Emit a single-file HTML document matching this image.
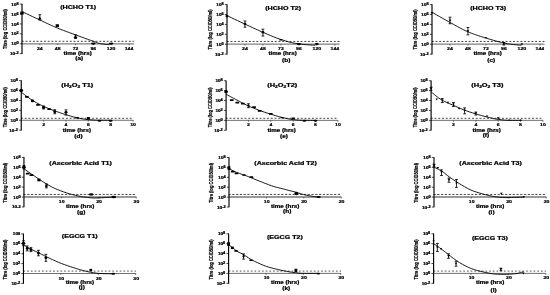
<!DOCTYPE html>
<html><head><meta charset="utf-8"><title>Inactivation kinetics</title>
<style>
html,body{margin:0;padding:0;background:#fff;}
svg{display:block;font-family:"Liberation Sans",Arial,sans-serif;font-weight:bold;fill:#000;}
text{stroke:#000;stroke-width:0.22px;stroke-linejoin:round;}
</style></head><body>
<svg width="550" height="295" viewBox="0 0 550 295">
<defs><filter id="soft" x="0" y="0" width="550" height="295" filterUnits="userSpaceOnUse"><feGaussianBlur stdDeviation="0.42"/></filter></defs>
<rect width="550" height="295" fill="#fff"/>
<g filter="url(#soft)">
<g stroke="#000" fill="#000"><path d="M22 43.75H133.9" stroke-width="1.25" stroke="#808080"/><path d="M39.83 43.75v1.4M57.66 43.75v1.4M75.5 43.75v1.4M93.33 43.75v1.4M111.16 43.75v1.4M128.99 43.75v1.4" stroke-width="0.7" stroke="#333"/><path d="M21.86 41.3H133.9" stroke-width="0.8" stroke="#111" stroke-dasharray="1.9 1.79"/><path d="M22 3.85V54" stroke-width="1.15"/><path d="M19.8 4.15H22M19.8 14.05H22M19.8 23.95H22M19.8 33.85H22M19.8 43.75H22M19.8 53.65H22" stroke-width="0.7"/><path d="M22 11.57L23.49 12.29L24.97 12.99L26.46 13.7L27.94 14.41L29.43 15.11L30.92 15.81L32.4 16.51L33.89 17.21L35.37 17.91L36.86 18.6L38.35 19.3L39.83 19.99L41.32 20.68L42.8 21.38L44.29 22.09L45.78 22.79L47.26 23.49L48.75 24.19L50.23 24.88L51.72 25.57L53.21 26.24L54.69 26.89L56.18 27.53L57.66 28.16L59.15 28.76L60.64 29.35L62.12 29.93L63.61 30.49L65.09 31.05L66.58 31.6L68.07 32.14L69.55 32.68L71.04 33.22L72.52 33.76L74.01 34.3L75.5 34.84L76.98 35.39L78.47 35.93L79.95 36.48L81.44 37.02L82.93 37.57L84.41 38.11L85.9 38.65L87.38 39.18L88.87 39.71L90.36 40.24L91.84 40.76L93.33 41.27L94.81 41.82L96.3 42.4L97.79 42.96L99.27 43.43L100.76 43.75L102.24 43.98L103.73 44.19L105.22 44.37L106.7 44.51L108.19 44.61L109.67 44.64" stroke-width="0.92" fill="none" stroke-linejoin="round"/><rect x="20.27" y="11.56" width="3.45" height="3" stroke="none"/><path d="M39.83 14.74V19.99M38.43 14.74h2.8M38.43 19.99h2.8" stroke-width="0.85"/><path d="M37.96 19.57h3.75L39.83 16.45z" stroke="none"/><rect x="55.64" y="24.25" width="3.31" height="2.88" stroke="none"/><path d="M75.5 34.84V37.56M74.1 34.84h2.8M74.1 37.56h2.8" stroke-width="0.85"/><ellipse cx="75.5" cy="37.56" rx="1.65" ry="1.5" stroke="none"/><ellipse cx="93.33" cy="43.55" rx="2.27" ry="1.12" stroke="none"/><ellipse cx="111.16" cy="43.55" rx="2.27" ry="1.12" stroke="none"/></g>
<text transform="translate(18.7 5.7) scale(1.36 1)" font-size="3.4" text-anchor="end">10<tspan font-size="2.9" dy="-0.95">8</tspan></text>
<text transform="translate(18.7 15.6) scale(1.36 1)" font-size="3.4" text-anchor="end">10<tspan font-size="2.9" dy="-0.95">6</tspan></text>
<text transform="translate(18.7 25.5) scale(1.36 1)" font-size="3.4" text-anchor="end">10<tspan font-size="2.9" dy="-0.95">4</tspan></text>
<text transform="translate(18.7 35.4) scale(1.36 1)" font-size="3.4" text-anchor="end">10<tspan font-size="2.9" dy="-0.95">2</tspan></text>
<text transform="translate(18.7 45.3) scale(1.36 1)" font-size="3.4" text-anchor="end">10<tspan font-size="2.9" dy="-0.95">0</tspan></text>
<text transform="translate(18.7 55.2) scale(1.36 1)" font-size="3.4" text-anchor="end">10<tspan font-size="2.9" dy="-0.95">-2</tspan></text>
<text transform="translate(39.83 49.6) scale(1.2 1)" font-size="4.3" text-anchor="middle" stroke-width="0.12">24</text>
<text transform="translate(57.66 49.6) scale(1.2 1)" font-size="4.3" text-anchor="middle" stroke-width="0.12">48</text>
<text transform="translate(75.5 49.6) scale(1.2 1)" font-size="4.3" text-anchor="middle" stroke-width="0.12">72</text>
<text transform="translate(93.33 49.6) scale(1.2 1)" font-size="4.3" text-anchor="middle" stroke-width="0.12">96</text>
<text transform="translate(111.16 49.6) scale(1.2 1)" font-size="4.3" text-anchor="middle" stroke-width="0.12">120</text>
<text transform="translate(128.99 49.6) scale(1.2 1)" font-size="4.3" text-anchor="middle" stroke-width="0.12">144</text>
<text transform="translate(77.6 54.85) scale(1.39 1)" font-size="4.5" text-anchor="middle" stroke-width="0.24">time (hrs)</text>
<text transform="translate(79.2 60.35) scale(1.45 1)" font-size="4.5" text-anchor="middle" stroke-width="0.3">(a)</text>
<text transform="translate(78.1 8.75) scale(1.55 1)" font-size="4.6" text-anchor="middle" stroke-width="0.1">(HCHO T1)</text>
<text transform="translate(6.9 29) rotate(-90) scale(0.88 1)" font-size="4.6" text-anchor="middle" stroke-width="0.3">Titre (log CCID50/ml)</text>
<g stroke="#000" fill="#000"><path d="M227 44.2H339.5" stroke-width="1.25" stroke="#808080"/><path d="M244.98 44.2v1.4M262.95 44.2v1.4M280.93 44.2v1.4M298.9 44.2v1.4M316.88 44.2v1.4M334.86 44.2v1.4" stroke-width="0.7" stroke="#333"/><path d="M226.86 41.45H339.5" stroke-width="0.8" stroke="#111" stroke-dasharray="1.9 1.79"/><path d="M227 4.3V54.45" stroke-width="1.15"/><path d="M224.8 4.6H227M224.8 14.5H227M224.8 24.4H227M224.8 34.3H227M224.8 44.2H227M224.8 54.1H227" stroke-width="0.7"/><path d="M227 15.59L228.5 16.31L230 17.03L231.49 17.75L232.99 18.46L234.49 19.17L235.99 19.88L237.49 20.59L238.98 21.3L240.48 22L241.98 22.7L243.48 23.41L244.98 24.1L246.47 24.8L247.97 25.5L249.47 26.2L250.97 26.9L252.47 27.6L253.96 28.3L255.46 28.99L256.96 29.67L258.46 30.35L259.96 31.02L261.45 31.68L262.95 32.32L264.45 32.96L265.95 33.6L267.45 34.25L268.94 34.89L270.44 35.52L271.94 36.14L273.44 36.75L274.94 37.34L276.43 37.92L277.93 38.47L279.43 39L280.93 39.5L282.43 39.98L283.92 40.46L285.42 40.92L286.92 41.37L288.42 41.8L289.92 42.2L291.41 42.57L292.91 42.91L294.41 43.21L295.91 43.48L297.41 43.72L298.9 43.94L300.4 44.12L301.9 44.27L303.4 44.42L304.9 44.56L306.39 44.69L307.89 44.81L309.39 44.92L310.89 45.02L312.39 45.09L313.88 45.15L315.38 45.19" stroke-width="0.92" fill="none" stroke-linejoin="round"/><ellipse cx="227" cy="16.08" rx="1.51" ry="1.38" stroke="none"/><path d="M244.98 21.03V27.17M243.58 21.03h2.8M243.58 27.17h2.8" stroke-width="0.85"/><ellipse cx="244.98" cy="24.1" rx="1.38" ry="1.25" stroke="none"/><path d="M262.95 29.2V36.03M261.55 29.2h2.8M261.55 36.03h2.8" stroke-width="0.85"/><ellipse cx="262.95" cy="32.32" rx="1.38" ry="1.25" stroke="none"/><rect x="279.43" y="39.09" width="3" height="1.4" rx="0.5" stroke="none"/><ellipse cx="298.9" cy="44" rx="1.99" ry="0.99" stroke="none"/><ellipse cx="316.88" cy="44" rx="1.99" ry="0.99" stroke="none"/></g>
<text transform="translate(223.7 6.15) scale(1.36 1)" font-size="3.4" text-anchor="end">10<tspan font-size="2.9" dy="-0.95">8</tspan></text>
<text transform="translate(223.7 16.05) scale(1.36 1)" font-size="3.4" text-anchor="end">10<tspan font-size="2.9" dy="-0.95">6</tspan></text>
<text transform="translate(223.7 25.95) scale(1.36 1)" font-size="3.4" text-anchor="end">10<tspan font-size="2.9" dy="-0.95">4</tspan></text>
<text transform="translate(223.7 35.85) scale(1.36 1)" font-size="3.4" text-anchor="end">10<tspan font-size="2.9" dy="-0.95">2</tspan></text>
<text transform="translate(223.7 45.75) scale(1.36 1)" font-size="3.4" text-anchor="end">10<tspan font-size="2.9" dy="-0.95">0</tspan></text>
<text transform="translate(223.7 55.65) scale(1.36 1)" font-size="3.4" text-anchor="end">10<tspan font-size="2.9" dy="-0.95">-2</tspan></text>
<text transform="translate(244.98 50.05) scale(1.2 1)" font-size="4.3" text-anchor="middle" stroke-width="0.12">24</text>
<text transform="translate(262.95 50.05) scale(1.2 1)" font-size="4.3" text-anchor="middle" stroke-width="0.12">48</text>
<text transform="translate(280.93 50.05) scale(1.2 1)" font-size="4.3" text-anchor="middle" stroke-width="0.12">72</text>
<text transform="translate(298.9 50.05) scale(1.2 1)" font-size="4.3" text-anchor="middle" stroke-width="0.12">96</text>
<text transform="translate(316.88 50.05) scale(1.2 1)" font-size="4.3" text-anchor="middle" stroke-width="0.12">120</text>
<text transform="translate(334.86 50.05) scale(1.2 1)" font-size="4.3" text-anchor="middle" stroke-width="0.12">144</text>
<text transform="translate(282.6 55.3) scale(1.39 1)" font-size="4.5" text-anchor="middle" stroke-width="0.24">time (hrs)</text>
<text transform="translate(286.2 62.1) scale(1.45 1)" font-size="4.5" text-anchor="middle" stroke-width="0.3">(b)</text>
<text transform="translate(283.1 9.5) scale(1.55 1)" font-size="4.6" text-anchor="middle" stroke-width="0.1">(HCHO T2)</text>
<text transform="translate(211.9 29.45) rotate(-90) scale(0.88 1)" font-size="4.6" text-anchor="middle" stroke-width="0.3">Titre (log CCID50/ml)</text>
<g stroke="#000" fill="#000"><path d="M432 44.2H544.5" stroke-width="1.25" stroke="#808080"/><path d="M449.98 44.2v1.4M467.95 44.2v1.4M485.93 44.2v1.4M503.9 44.2v1.4M521.88 44.2v1.4M539.86 44.2v1.4" stroke-width="0.7" stroke="#333"/><path d="M431.86 41.45H544.5" stroke-width="0.8" stroke="#111" stroke-dasharray="1.9 1.79"/><path d="M432 4.3V54.45" stroke-width="1.15"/><path d="M429.8 4.6H432M429.8 14.5H432M429.8 24.4H432M429.8 34.3H432M429.8 44.2H432M429.8 54.1H432" stroke-width="0.7"/><path d="M432 12.22L433.51 13.11L435.02 13.99L436.53 14.87L438.04 15.74L439.55 16.61L441.06 17.47L442.57 18.32L444.09 19.17L445.6 20.01L447.11 20.85L448.62 21.68L450.13 22.5L451.64 23.33L453.15 24.17L454.66 25.02L456.17 25.87L457.68 26.7L459.19 27.53L460.7 28.34L462.21 29.13L463.72 29.89L465.24 30.62L466.75 31.31L468.26 31.95L469.77 32.56L471.28 33.16L472.79 33.72L474.3 34.27L475.81 34.81L477.32 35.32L478.83 35.83L480.34 36.32L481.85 36.8L483.36 37.27L484.87 37.74L486.39 38.2L487.9 38.66L489.41 39.12L490.92 39.57L492.43 40.01L493.94 40.44L495.45 40.87L496.96 41.28L498.47 41.68L499.98 42.06L501.49 42.42L503 42.77L504.51 43.09L506.02 43.41L507.53 43.7L509.05 43.97L510.56 44.19L512.07 44.38L513.58 44.56L515.09 44.73L516.6 44.88L518.11 45.01L519.62 45.11L521.13 45.19" stroke-width="0.92" fill="none" stroke-linejoin="round"/><path d="M430.65 11.89h2.7L432 14.14z" stroke="none"/><path d="M449.98 17.27V23.76M448.58 17.27h2.8M448.58 23.76h2.8" stroke-width="0.85"/><path d="M448.63 19.56h2.7L449.98 21.81z" stroke="none"/><path d="M467.95 27.52V34.84M466.55 27.52h2.8M466.55 34.84h2.8" stroke-width="0.85"/><path d="M466.6 30.21h2.7L467.95 32.45z" stroke="none"/><rect x="484.62" y="37.15" width="2.62" height="1.22" rx="0.5" stroke="none"/><path d="M503.9 42.47V44.94M502.5 42.47h2.8M502.5 44.94h2.8" stroke-width="0.85"/><path d="M502.7 42.71h2.4L503.9 44.71z" stroke="none"/><path d="M520.68 43.2h2.4L521.88 45.2z" stroke="none"/></g>
<text transform="translate(428.7 6.15) scale(1.36 1)" font-size="3.4" text-anchor="end">10<tspan font-size="2.9" dy="-0.95">8</tspan></text>
<text transform="translate(428.7 16.05) scale(1.36 1)" font-size="3.4" text-anchor="end">10<tspan font-size="2.9" dy="-0.95">6</tspan></text>
<text transform="translate(428.7 25.95) scale(1.36 1)" font-size="3.4" text-anchor="end">10<tspan font-size="2.9" dy="-0.95">4</tspan></text>
<text transform="translate(428.7 35.85) scale(1.36 1)" font-size="3.4" text-anchor="end">10<tspan font-size="2.9" dy="-0.95">2</tspan></text>
<text transform="translate(428.7 45.75) scale(1.36 1)" font-size="3.4" text-anchor="end">10<tspan font-size="2.9" dy="-0.95">0</tspan></text>
<text transform="translate(428.7 55.65) scale(1.36 1)" font-size="3.4" text-anchor="end">10<tspan font-size="2.9" dy="-0.95">-2</tspan></text>
<text transform="translate(449.98 50.05) scale(1.2 1)" font-size="4.3" text-anchor="middle" stroke-width="0.12">24</text>
<text transform="translate(467.95 50.05) scale(1.2 1)" font-size="4.3" text-anchor="middle" stroke-width="0.12">48</text>
<text transform="translate(485.93 50.05) scale(1.2 1)" font-size="4.3" text-anchor="middle" stroke-width="0.12">72</text>
<text transform="translate(503.9 50.05) scale(1.2 1)" font-size="4.3" text-anchor="middle" stroke-width="0.12">96</text>
<text transform="translate(521.88 50.05) scale(1.2 1)" font-size="4.3" text-anchor="middle" stroke-width="0.12">120</text>
<text transform="translate(539.86 50.05) scale(1.2 1)" font-size="4.3" text-anchor="middle" stroke-width="0.12">144</text>
<text transform="translate(487.6 55.3) scale(1.39 1)" font-size="4.5" text-anchor="middle" stroke-width="0.24">time (hrs)</text>
<text transform="translate(491.2 62.1) scale(1.45 1)" font-size="4.5" text-anchor="middle" stroke-width="0.3">(c)</text>
<text transform="translate(488.1 9.5) scale(1.55 1)" font-size="4.6" text-anchor="middle" stroke-width="0.1">(HCHO T3)</text>
<text transform="translate(416.9 29.45) rotate(-90) scale(0.88 1)" font-size="4.6" text-anchor="middle" stroke-width="0.3">Titre (log CCID50/ml)</text>
<g stroke="#000" fill="#000"><path d="M21.25 120.25H133.35" stroke-width="0.8" stroke="#4a4a4a"/><path d="M43.61 120.25v1.4M65.97 120.25v1.4M88.33 120.25v1.4M110.69 120.25v1.4M133.05 120.25v1.4" stroke-width="0.7" stroke="#333"/><path d="M20.95 118.3H133.35" stroke-width="1.0" stroke="#444" stroke-dasharray="1.9 1.85"/><path d="M21.25 80.35V130.5" stroke-width="1.15"/><path d="M19.05 80.65H21.25M19.05 90.55H21.25M19.05 100.45H21.25M19.05 110.35H21.25M19.05 120.25H21.25M19.05 130.15H21.25" stroke-width="0.7"/><path d="M21.25 92.08L22.78 93.3L24.32 94.49L25.85 95.66L27.39 96.8L28.92 97.93L30.46 99.04L31.99 100.08L33.53 101.03L35.06 101.94L36.6 102.81L38.13 103.66L39.67 104.46L41.2 105.24L42.74 105.98L44.27 106.69L45.81 107.37L47.34 108.02L48.88 108.64L50.41 109.25L51.95 109.83L53.48 110.41L55.02 110.98L56.55 111.54L58.09 112.09L59.62 112.63L61.16 113.16L62.69 113.67L64.23 114.16L65.76 114.64L67.3 115.11L68.83 115.57L70.37 116.03L71.9 116.47L73.44 116.89L74.97 117.28L76.51 117.64L78.04 117.96L79.58 118.28L81.11 118.59L82.65 118.88L84.18 119.14L85.72 119.37L87.25 119.56L88.78 119.69L90.32 119.81L91.85 119.93L93.39 120.03L94.92 120.12L96.46 120.19L97.99 120.23L99.53 120.25L101.06 120.25L102.6 120.25L104.13 120.25L105.67 120.25L107.2 120.25L108.74 120.25L110.27 120.25L111.81 120.25" stroke-width="0.92" fill="none" stroke-linejoin="round"/><ellipse cx="21.25" cy="90.55" rx="1.93" ry="1.75" stroke="none"/><rect x="24.96" y="96.11" width="3.75" height="1.75" rx="0.5" stroke="none"/><ellipse cx="32.43" cy="100.65" rx="1.65" ry="1.5" stroke="none"/><rect x="36.14" y="104.03" width="3.75" height="1.75" rx="0.5" stroke="none"/><path d="M43.61 105.99V108.96M42.21 105.99h2.8M42.21 108.96h2.8" stroke-width="0.85"/><ellipse cx="43.61" cy="107.48" rx="1.65" ry="1.5" stroke="none"/><rect x="47.33" y="108.29" width="3.75" height="1.75" rx="0.5" stroke="none"/><path d="M54.79 109.76V113.72M53.39 109.76h2.8M53.39 113.72h2.8" stroke-width="0.85"/><ellipse cx="54.79" cy="111.74" rx="1.51" ry="1.38" stroke="none"/><path d="M65.97 109.86V115.05M64.57 109.86h2.8M64.57 115.05h2.8" stroke-width="0.85"/><ellipse cx="65.97" cy="112.33" rx="1.51" ry="1.38" stroke="none"/><rect x="75.46" y="116.99" width="3.38" height="1.57" rx="0.5" stroke="none"/><rect x="86.89" y="117.02" width="2.88" height="2.5" stroke="none"/><ellipse cx="99.51" cy="120.65" rx="1.99" ry="0.99" stroke="none"/><ellipse cx="110.69" cy="120.65" rx="1.99" ry="0.99" stroke="none"/></g>
<text transform="translate(17.95 82.2) scale(1.36 1)" font-size="3.4" text-anchor="end">10<tspan font-size="2.9" dy="-0.95">8</tspan></text>
<text transform="translate(17.95 92.1) scale(1.36 1)" font-size="3.4" text-anchor="end">10<tspan font-size="2.9" dy="-0.95">6</tspan></text>
<text transform="translate(17.95 102) scale(1.36 1)" font-size="3.4" text-anchor="end">10<tspan font-size="2.9" dy="-0.95">4</tspan></text>
<text transform="translate(17.95 111.9) scale(1.36 1)" font-size="3.4" text-anchor="end">10<tspan font-size="2.9" dy="-0.95">2</tspan></text>
<text transform="translate(17.95 121.8) scale(1.36 1)" font-size="3.4" text-anchor="end">10<tspan font-size="2.9" dy="-0.95">0</tspan></text>
<text transform="translate(17.95 131.7) scale(1.36 1)" font-size="3.4" text-anchor="end">10<tspan font-size="2.9" dy="-0.95">-2</tspan></text>
<text transform="translate(43.61 126.1) scale(1.2 1)" font-size="4.3" text-anchor="middle" stroke-width="0.12">2</text>
<text transform="translate(65.97 126.1) scale(1.2 1)" font-size="4.3" text-anchor="middle" stroke-width="0.12">4</text>
<text transform="translate(88.33 126.1) scale(1.2 1)" font-size="4.3" text-anchor="middle" stroke-width="0.12">6</text>
<text transform="translate(110.69 126.1) scale(1.2 1)" font-size="4.3" text-anchor="middle" stroke-width="0.12">8</text>
<text transform="translate(133.05 126.1) scale(1.2 1)" font-size="4.3" text-anchor="middle" stroke-width="0.12">10</text>
<text transform="translate(76.85 131.95) scale(1.39 1)" font-size="4.5" text-anchor="middle" stroke-width="0.24">time (hrs)</text>
<text transform="translate(78.45 138.05) scale(1.45 1)" font-size="4.5" text-anchor="middle" stroke-width="0.3">(d)</text>
<text transform="translate(77.25 87.05) scale(1.61 1)" font-size="4.6" text-anchor="middle" stroke-width="0.1">(H<tspan font-size="3" dy="1">2</tspan><tspan dy="-1">O</tspan><tspan font-size="3" dy="1">2</tspan><tspan dy="-1"> T1)</tspan></text>
<text transform="translate(6.65 107.2) rotate(-90) scale(0.88 1)" font-size="4.6" text-anchor="middle" stroke-width="0.3">Titre (log CCID50/ml)</text>
<g stroke="#000" fill="#000"><path d="M226.1 120.35H338.2" stroke-width="0.8" stroke="#4a4a4a"/><path d="M248.46 120.35v1.4M270.82 120.35v1.4M293.18 120.35v1.4M315.54 120.35v1.4M337.9 120.35v1.4" stroke-width="0.7" stroke="#333"/><path d="M225.8 118.3H338.2" stroke-width="1.0" stroke="#444" stroke-dasharray="1.9 1.85"/><path d="M226.1 80.45V130.6" stroke-width="1.15"/><path d="M223.9 80.75H226.1M223.9 90.65H226.1M223.9 100.55H226.1M223.9 110.45H226.1M223.9 120.35H226.1M223.9 130.25H226.1" stroke-width="0.7"/><path d="M226.1 94.31L227.63 95.14L229.17 95.96L230.7 96.78L232.24 97.6L233.77 98.41L235.31 99.22L236.84 100.03L238.38 100.83L239.91 101.65L241.45 102.47L242.98 103.29L244.52 104.09L246.05 104.86L247.59 105.6L249.12 106.29L250.66 106.95L252.19 107.59L253.73 108.21L255.26 108.81L256.8 109.4L258.33 109.97L259.87 110.53L261.4 111.09L262.94 111.63L264.47 112.15L266.01 112.67L267.54 113.18L269.08 113.67L270.61 114.15L272.15 114.62L273.68 115.09L275.22 115.55L276.75 116L278.29 116.43L279.82 116.84L281.36 117.23L282.89 117.59L284.43 117.96L285.96 118.32L287.5 118.66L289.03 118.98L290.57 119.26L292.1 119.48L293.63 119.65L295.17 119.8L296.7 119.95L298.24 120.08L299.77 120.19L301.31 120.27L302.84 120.33L304.38 120.35L305.91 120.35L307.45 120.35L308.98 120.35L310.52 120.35L312.05 120.35L313.59 120.35L315.12 120.35L316.66 120.35" stroke-width="0.92" fill="none" stroke-linejoin="round"/><ellipse cx="226.1" cy="91.64" rx="1.86" ry="1.69" stroke="none"/><rect x="229.81" y="99.18" width="3.75" height="1.75" rx="0.5" stroke="none"/><rect x="235.41" y="101.66" width="3.75" height="1.75" rx="0.5" stroke="none"/><rect x="241" y="102.79" width="3.75" height="1.75" rx="0.5" stroke="none"/><path d="M248.46 103.72V107.68M247.06 103.72h2.8M247.06 107.68h2.8" stroke-width="0.85"/><ellipse cx="248.46" cy="105.7" rx="1.24" ry="1.12" stroke="none"/><rect x="252.17" y="106.21" width="3.75" height="1.75" rx="0.5" stroke="none"/><rect x="257.76" y="109.97" width="3.75" height="1.75" rx="0.5" stroke="none"/><rect x="268.94" y="113.04" width="3.75" height="1.75" rx="0.5" stroke="none"/><rect x="280.5" y="116.93" width="3" height="1.4" rx="0.5" stroke="none"/><rect x="291.49" y="117.58" width="3.38" height="1.57" rx="0.5" stroke="none"/><ellipse cx="304.36" cy="120.75" rx="1.9" ry="0.94" stroke="none"/><ellipse cx="315.54" cy="120.75" rx="1.9" ry="0.94" stroke="none"/></g>
<text transform="translate(222.8 82.3) scale(1.36 1)" font-size="3.4" text-anchor="end">10<tspan font-size="2.9" dy="-0.95">8</tspan></text>
<text transform="translate(222.8 92.2) scale(1.36 1)" font-size="3.4" text-anchor="end">10<tspan font-size="2.9" dy="-0.95">6</tspan></text>
<text transform="translate(222.8 102.1) scale(1.36 1)" font-size="3.4" text-anchor="end">10<tspan font-size="2.9" dy="-0.95">4</tspan></text>
<text transform="translate(222.8 112) scale(1.36 1)" font-size="3.4" text-anchor="end">10<tspan font-size="2.9" dy="-0.95">2</tspan></text>
<text transform="translate(222.8 121.9) scale(1.36 1)" font-size="3.4" text-anchor="end">10<tspan font-size="2.9" dy="-0.95">0</tspan></text>
<text transform="translate(222.8 131.8) scale(1.36 1)" font-size="3.4" text-anchor="end">10<tspan font-size="2.9" dy="-0.95">-2</tspan></text>
<text transform="translate(248.46 126.2) scale(1.2 1)" font-size="4.3" text-anchor="middle" stroke-width="0.12">2</text>
<text transform="translate(270.82 126.2) scale(1.2 1)" font-size="4.3" text-anchor="middle" stroke-width="0.12">4</text>
<text transform="translate(293.18 126.2) scale(1.2 1)" font-size="4.3" text-anchor="middle" stroke-width="0.12">6</text>
<text transform="translate(315.54 126.2) scale(1.2 1)" font-size="4.3" text-anchor="middle" stroke-width="0.12">8</text>
<text transform="translate(337.9 126.2) scale(1.2 1)" font-size="4.3" text-anchor="middle" stroke-width="0.12">10</text>
<text transform="translate(281.7 132.05) scale(1.39 1)" font-size="4.5" text-anchor="middle" stroke-width="0.24">time (hrs)</text>
<text transform="translate(283.95 138.15) scale(1.45 1)" font-size="4.5" text-anchor="middle" stroke-width="0.3">(e)</text>
<text transform="translate(282.3 86.55) scale(1.61 1)" font-size="4.6" text-anchor="middle" stroke-width="0.1">(H<tspan font-size="3" dy="1">2</tspan><tspan dy="-1">O</tspan><tspan font-size="3" dy="1">2</tspan><tspan dy="-1">T2)</tspan></text>
<text transform="translate(211.5 107.3) rotate(-90) scale(0.88 1)" font-size="4.6" text-anchor="middle" stroke-width="0.3">Titre (log CCID50/ml)</text>
<g stroke="#000" fill="#000"><path d="M431.1 120.35H543.2" stroke-width="0.8" stroke="#4a4a4a"/><path d="M453.46 120.35v1.4M475.82 120.35v1.4M498.18 120.35v1.4M520.54 120.35v1.4M542.9 120.35v1.4" stroke-width="0.7" stroke="#333"/><path d="M430.8 118.3H543.2" stroke-width="1.0" stroke="#444" stroke-dasharray="1.9 1.85"/><path d="M431.1 80.45V130.6" stroke-width="1.15"/><path d="M428.9 80.75H431.1M428.9 90.65H431.1M428.9 100.55H431.1M428.9 110.45H431.1M428.9 120.35H431.1M428.9 130.25H431.1" stroke-width="0.7"/><path d="M431.1 91.69L432.63 93.08L434.17 94.41L435.7 95.68L437.24 96.88L438.77 98.01L440.31 99.05L441.84 100L443.38 100.86L444.91 101.64L446.45 102.36L447.98 103.03L449.52 103.68L451.05 104.32L452.59 104.97L454.12 105.65L455.66 106.33L457.19 107.02L458.73 107.7L460.26 108.37L461.8 109.02L463.33 109.65L464.87 110.24L466.4 110.81L467.94 111.35L469.47 111.88L471.01 112.4L472.54 112.9L474.08 113.38L475.61 113.85L477.15 114.31L478.68 114.76L480.22 115.2L481.75 115.63L483.29 116.05L484.82 116.44L486.36 116.83L487.89 117.2L489.43 117.58L490.96 117.95L492.5 118.31L494.03 118.65L495.57 118.95L497.1 119.21L498.63 119.42L500.17 119.61L501.7 119.8L503.24 119.97L504.77 120.13L506.31 120.24L507.84 120.32L509.38 120.35L510.91 120.35L512.45 120.35L513.98 120.35L515.52 120.35L517.05 120.35L518.59 120.35L520.12 120.35L521.66 120.35" stroke-width="0.92" fill="none" stroke-linejoin="round"/><path d="M431.1 87.19V90.15M429.7 87.19h2.8M429.7 90.15h2.8" stroke-width="0.85"/><path d="M429.75 87.54h2.7L431.1 89.79z" stroke="none"/><path d="M435.49 98.41h2.4L436.69 100.41z" stroke="none"/><path d="M442.28 98.57V102.53M440.88 98.57h2.8M440.88 102.53h2.8" stroke-width="0.85"/><path d="M441.08 99.55h2.4L442.28 101.55z" stroke="none"/><path d="M446.67 101.83h2.4L447.87 103.83z" stroke="none"/><path d="M453.46 102.53V106.49M452.06 102.53h2.8M452.06 106.49h2.8" stroke-width="0.85"/><path d="M452.26 103.51h2.4L453.46 105.51z" stroke="none"/><path d="M457.85 107.77h2.4L459.05 109.77z" stroke="none"/><path d="M464.64 107.88V113.82M463.24 107.88h2.8M463.24 113.82h2.8" stroke-width="0.85"/><path d="M463.44 109.85h2.4L464.64 111.85z" stroke="none"/><path d="M475.82 112.08V115.05M474.42 112.08h2.8M474.42 115.05h2.8" stroke-width="0.85"/><path d="M474.62 112.57h2.4L475.82 114.57z" stroke="none"/><path d="M485.8 115.44h2.4L487 117.44z" stroke="none"/><path d="M496.83 117.24h2.7L498.18 119.49z" stroke="none"/><path d="M508.46 119.6h1.8L509.36 121.1z" stroke="none"/><path d="M519.64 119.6h1.8L520.54 121.1z" stroke="none"/></g>
<text transform="translate(427.8 82.3) scale(1.36 1)" font-size="3.4" text-anchor="end">10<tspan font-size="2.9" dy="-0.95">8</tspan></text>
<text transform="translate(427.8 92.2) scale(1.36 1)" font-size="3.4" text-anchor="end">10<tspan font-size="2.9" dy="-0.95">6</tspan></text>
<text transform="translate(427.8 102.1) scale(1.36 1)" font-size="3.4" text-anchor="end">10<tspan font-size="2.9" dy="-0.95">4</tspan></text>
<text transform="translate(427.8 112) scale(1.36 1)" font-size="3.4" text-anchor="end">10<tspan font-size="2.9" dy="-0.95">2</tspan></text>
<text transform="translate(427.8 121.9) scale(1.36 1)" font-size="3.4" text-anchor="end">10<tspan font-size="2.9" dy="-0.95">0</tspan></text>
<text transform="translate(427.8 131.8) scale(1.36 1)" font-size="3.4" text-anchor="end">10<tspan font-size="2.9" dy="-0.95">-2</tspan></text>
<text transform="translate(453.46 126.2) scale(1.2 1)" font-size="4.3" text-anchor="middle" stroke-width="0.12">2</text>
<text transform="translate(475.82 126.2) scale(1.2 1)" font-size="4.3" text-anchor="middle" stroke-width="0.12">4</text>
<text transform="translate(498.18 126.2) scale(1.2 1)" font-size="4.3" text-anchor="middle" stroke-width="0.12">6</text>
<text transform="translate(520.54 126.2) scale(1.2 1)" font-size="4.3" text-anchor="middle" stroke-width="0.12">8</text>
<text transform="translate(542.9 126.2) scale(1.2 1)" font-size="4.3" text-anchor="middle" stroke-width="0.12">10</text>
<text transform="translate(486.7 132.05) scale(1.39 1)" font-size="4.5" text-anchor="middle" stroke-width="0.24">time (hrs)</text>
<text transform="translate(485.9 136.65) scale(1.45 1)" font-size="4.5" text-anchor="middle" stroke-width="0.3">(f)</text>
<text transform="translate(487.4 86.55) scale(1.61 1)" font-size="4.6" text-anchor="middle" stroke-width="0.1">(H<tspan font-size="3" dy="1">2</tspan><tspan dy="-1">O</tspan><tspan font-size="3" dy="1">2</tspan><tspan dy="-1"> T3)</tspan></text>
<text transform="translate(416.5 107.3) rotate(-90) scale(0.88 1)" font-size="4.6" text-anchor="middle" stroke-width="0.3">Titre (log CCID50/ml)</text>
<g stroke="#000" fill="#000"><path d="M23.95 197H136.5" stroke-width="1.5" stroke="#777"/><path d="M61.35 197v1.4M98.75 197v1.4M136.15 197v1.4" stroke-width="0.7" stroke="#333"/><path d="M23.45 194.45H136.5" stroke-width="0.8" stroke="#1a1a1a" stroke-dasharray="2.2 1.57"/><path d="M23.95 157.1V207.25" stroke-width="1.15"/><path d="M21.75 157.4H23.95M21.75 167.3H23.95M21.75 177.2H23.95M21.75 187.1H23.95M21.75 197H23.95M21.75 206.9H23.95" stroke-width="0.7"/><path d="M23.95 168.83L25.47 169.89L26.99 170.93L28.51 171.98L30.04 173.03L31.56 174.07L33.08 175.11L34.6 176.16L36.12 177.2L37.64 178.24L39.16 179.25L40.68 180.26L42.21 181.26L43.73 182.24L45.25 183.19L46.77 184.11L48.29 185L49.81 185.87L51.33 186.71L52.86 187.5L54.38 188.23L55.9 188.9L57.42 189.54L58.94 190.15L60.46 190.73L61.98 191.29L63.51 191.84L65.03 192.37L66.55 192.88L68.07 193.36L69.59 193.8L71.11 194.23L72.63 194.63L74.15 195.01L75.68 195.37L77.2 195.72L78.72 196.06L80.24 196.39L81.76 196.69L83.28 196.93L84.8 197.13L86.33 197.32L87.85 197.5L89.37 197.67L90.89 197.81L92.41 197.91L93.93 197.98L95.45 197.99L96.98 197.96L98.5 197.92L100.02 197.85L101.54 197.77L103.06 197.68L104.58 197.59L106.1 197.5L107.62 197.42L109.15 197.32L110.67 197.22L112.19 197.11L113.71 197" stroke-width="0.92" fill="none" stroke-linejoin="round"/><path d="M23.95 165.42V168.88M22.55 165.42h2.8M22.55 168.88h2.8" stroke-width="0.85"/><ellipse cx="23.95" cy="167.15" rx="1.79" ry="1.62" stroke="none"/><rect x="25.81" y="172.76" width="3.75" height="1.75" rx="0.5" stroke="none"/><rect x="29.55" y="174.3" width="3.75" height="1.75" rx="0.5" stroke="none"/><rect x="37.33" y="178.6" width="3.16" height="2.75" stroke="none"/><path d="M46.39 183.93V187.89M44.99 183.93h2.8M44.99 187.89h2.8" stroke-width="0.85"/><ellipse cx="46.39" cy="185.91" rx="1.38" ry="1.25" stroke="none"/><ellipse cx="91.27" cy="194.43" rx="2.36" ry="1.17" stroke="none"/><ellipse cx="113.71" cy="197" rx="2.36" ry="1.17" stroke="none"/></g>
<text transform="translate(20.65 158.95) scale(1.36 1)" font-size="3.4" text-anchor="end">10<tspan font-size="2.9" dy="-0.95">8</tspan></text>
<text transform="translate(20.65 168.85) scale(1.36 1)" font-size="3.4" text-anchor="end">10<tspan font-size="2.9" dy="-0.95">6</tspan></text>
<text transform="translate(20.65 178.75) scale(1.36 1)" font-size="3.4" text-anchor="end">10<tspan font-size="2.9" dy="-0.95">4</tspan></text>
<text transform="translate(20.65 188.65) scale(1.36 1)" font-size="3.4" text-anchor="end">10<tspan font-size="2.9" dy="-0.95">2</tspan></text>
<text transform="translate(20.65 198.55) scale(1.36 1)" font-size="3.4" text-anchor="end">10<tspan font-size="2.9" dy="-0.95">0</tspan></text>
<text transform="translate(20.65 208.45) scale(1.36 1)" font-size="3.4" text-anchor="end">10<tspan font-size="2.9" dy="-0.95">-2</tspan></text>
<text transform="translate(61.65 202.85) scale(1.2 1)" font-size="4.3" text-anchor="middle" stroke-width="0.12">10</text>
<text transform="translate(99.05 202.85) scale(1.2 1)" font-size="4.3" text-anchor="middle" stroke-width="0.12">20</text>
<text transform="translate(136.45 202.85) scale(1.2 1)" font-size="4.3" text-anchor="middle" stroke-width="0.12">30</text>
<text transform="translate(80.15 208.1) scale(1.39 1)" font-size="4.5" text-anchor="middle" stroke-width="0.24">time (hrs)</text>
<text transform="translate(81.15 213.9) scale(1.45 1)" font-size="4.5" text-anchor="middle" stroke-width="0.3">(g)</text>
<text transform="translate(80.55 164.7) scale(1.55 1)" font-size="4.6" text-anchor="middle" stroke-width="0.1">(Ascorbic Acid T1)</text>
<text transform="translate(7.45 182.75) rotate(-90) scale(0.88 1)" font-size="4.6" text-anchor="middle" stroke-width="0.3">Titre (log CCID50/ml)</text>
<g stroke="#000" fill="#000"><path d="M229 197.1H341.4" stroke-width="1.5" stroke="#777"/><path d="M266.4 197.1v1.4M303.8 197.1v1.4M341.2 197.1v1.4" stroke-width="0.7" stroke="#333"/><path d="M228.5 194.45H341.4" stroke-width="0.8" stroke="#1a1a1a" stroke-dasharray="2.2 1.57"/><path d="M229 157.2V207.35" stroke-width="1.15"/><path d="M226.8 157.5H229M226.8 167.4H229M226.8 177.3H229M226.8 187.2H229M226.8 197.1H229M226.8 207H229" stroke-width="0.7"/><path d="M229 168.64L230.52 169.48L232.04 170.29L233.56 171.05L235.09 171.75L236.61 172.4L238.13 172.98L239.65 173.51L241.17 174.02L242.69 174.53L244.21 175.07L245.73 175.63L247.26 176.21L248.78 176.8L250.3 177.39L251.82 178L253.34 178.61L254.86 179.24L256.38 179.88L257.91 180.5L259.43 181.12L260.95 181.72L262.47 182.32L263.99 182.91L265.51 183.5L267.03 184.07L268.56 184.66L270.08 185.25L271.6 185.81L273.12 186.32L274.64 186.78L276.16 187.18L277.68 187.55L279.2 187.91L280.73 188.28L282.25 188.67L283.77 189.07L285.29 189.48L286.81 189.89L288.33 190.29L289.85 190.67L291.38 191.05L292.9 191.42L294.42 191.79L295.94 192.19L297.46 192.64L298.98 193.13L300.5 193.64L302.03 194.13L303.55 194.56L305.07 194.92L306.59 195.25L308.11 195.54L309.63 195.82L311.15 196.09L312.67 196.35L314.2 196.6L315.72 196.82L317.24 196.98L318.76 197.1" stroke-width="0.92" fill="none" stroke-linejoin="round"/><path d="M229 166.66V169.63M227.6 166.66h2.8M227.6 169.63h2.8" stroke-width="0.85"/><ellipse cx="229" cy="168.14" rx="1.51" ry="1.38" stroke="none"/><rect x="230.87" y="170.68" width="3.75" height="1.75" rx="0.5" stroke="none"/><rect x="234.6" y="172.47" width="3.75" height="1.75" rx="0.5" stroke="none"/><rect x="242.27" y="174.19" width="3.38" height="1.57" rx="0.5" stroke="none"/><rect x="249.56" y="176.13" width="3.75" height="1.75" rx="0.5" stroke="none"/><ellipse cx="296.32" cy="193.54" rx="1.93" ry="1.75" stroke="none"/><ellipse cx="318.76" cy="197" rx="1.99" ry="0.99" stroke="none"/></g>
<text transform="translate(225.7 159.05) scale(1.36 1)" font-size="3.4" text-anchor="end">10<tspan font-size="2.9" dy="-0.95">8</tspan></text>
<text transform="translate(225.7 168.95) scale(1.36 1)" font-size="3.4" text-anchor="end">10<tspan font-size="2.9" dy="-0.95">6</tspan></text>
<text transform="translate(225.7 178.85) scale(1.36 1)" font-size="3.4" text-anchor="end">10<tspan font-size="2.9" dy="-0.95">4</tspan></text>
<text transform="translate(225.7 188.75) scale(1.36 1)" font-size="3.4" text-anchor="end">10<tspan font-size="2.9" dy="-0.95">2</tspan></text>
<text transform="translate(225.7 198.65) scale(1.36 1)" font-size="3.4" text-anchor="end">10<tspan font-size="2.9" dy="-0.95">0</tspan></text>
<text transform="translate(225.7 208.55) scale(1.36 1)" font-size="3.4" text-anchor="end">10<tspan font-size="2.9" dy="-0.95">-2</tspan></text>
<text transform="translate(266.7 202.95) scale(1.2 1)" font-size="4.3" text-anchor="middle" stroke-width="0.12">10</text>
<text transform="translate(304.1 202.95) scale(1.2 1)" font-size="4.3" text-anchor="middle" stroke-width="0.12">20</text>
<text transform="translate(341.5 202.95) scale(1.2 1)" font-size="4.3" text-anchor="middle" stroke-width="0.12">30</text>
<text transform="translate(285.2 208.2) scale(1.39 1)" font-size="4.5" text-anchor="middle" stroke-width="0.24">time (hrs)</text>
<text transform="translate(287.2 213.3) scale(1.45 1)" font-size="4.5" text-anchor="middle" stroke-width="0.3">(h)</text>
<text transform="translate(285.6 164.8) scale(1.55 1)" font-size="4.6" text-anchor="middle" stroke-width="0.1">(Ascorbic Acid T2)</text>
<text transform="translate(212.5 182.85) rotate(-90) scale(0.88 1)" font-size="4.6" text-anchor="middle" stroke-width="0.3">Titre (log CCID50/ml)</text>
<g stroke="#000" fill="#000"><path d="M434 197.1H546.4" stroke-width="1.5" stroke="#777"/><path d="M471.4 197.1v1.4M508.8 197.1v1.4M546.2 197.1v1.4" stroke-width="0.7" stroke="#333"/><path d="M433.5 194.45H546.4" stroke-width="0.8" stroke="#1a1a1a" stroke-dasharray="2.2 1.57"/><path d="M434 157.2V207.35" stroke-width="1.15"/><path d="M431.8 157.5H434M431.8 167.4H434M431.8 177.3H434M431.8 187.2H434M431.8 197.1H434M431.8 207H434" stroke-width="0.7"/><path d="M434 167.25L435.52 167.87L437.04 168.57L438.56 169.35L440.09 170.19L441.61 171.09L443.13 172.12L444.65 173.28L446.17 174.5L447.69 175.71L449.21 176.84L450.73 177.91L452.26 178.97L453.78 180L455.3 181.01L456.82 182L458.34 182.98L459.86 183.94L461.38 184.87L462.91 185.78L464.43 186.65L465.95 187.51L467.47 188.35L468.99 189.15L470.51 189.88L472.03 190.53L473.56 191.11L475.08 191.64L476.6 192.14L478.12 192.61L479.64 193.07L481.16 193.51L482.68 193.93L484.2 194.33L485.73 194.72L487.25 195.09L488.77 195.47L490.29 195.83L491.81 196.16L493.33 196.43L494.85 196.65L496.38 196.86L497.9 197.06L499.42 197.24L500.94 197.39L502.46 197.51L503.98 197.58L505.5 197.59L507.03 197.58L508.55 197.56L510.07 197.52L511.59 197.48L513.11 197.44L514.63 197.39L516.15 197.35L517.67 197.31L519.2 197.26L520.72 197.21L522.24 197.16L523.76 197.1" stroke-width="0.92" fill="none" stroke-linejoin="round"/><path d="M434 164.18V166.66M432.6 164.18h2.8M432.6 166.66h2.8" stroke-width="0.85"/><path d="M432.65 164.29h2.7L434 166.54z" stroke="none"/><path d="M436.39 167.02h2.7L437.74 169.27z" stroke="none"/><path d="M441.48 169.88V175.47M440.08 169.88h2.8M440.08 175.47h2.8" stroke-width="0.85"/><path d="M440.28 171.35h2.4L441.48 173.35z" stroke="none"/><path d="M448.96 178.04V182.25M447.56 178.04h2.8M447.56 182.25h2.8" stroke-width="0.85"/><path d="M447.61 178.65h2.7L448.96 180.9z" stroke="none"/><path d="M456.44 179.48V187.4M455.04 179.48h2.8M455.04 187.4h2.8" stroke-width="0.85"/><path d="M455.24 182.44h2.4L456.44 184.44z" stroke="none"/><path d="M499.97 192.76h2.7L501.32 195.01z" stroke="none"/><path d="M522.56 196.1h2.4L523.76 198.1z" stroke="none"/></g>
<text transform="translate(430.7 159.05) scale(1.36 1)" font-size="3.4" text-anchor="end">10<tspan font-size="2.9" dy="-0.95">8</tspan></text>
<text transform="translate(430.7 168.95) scale(1.36 1)" font-size="3.4" text-anchor="end">10<tspan font-size="2.9" dy="-0.95">6</tspan></text>
<text transform="translate(430.7 178.85) scale(1.36 1)" font-size="3.4" text-anchor="end">10<tspan font-size="2.9" dy="-0.95">4</tspan></text>
<text transform="translate(430.7 188.75) scale(1.36 1)" font-size="3.4" text-anchor="end">10<tspan font-size="2.9" dy="-0.95">2</tspan></text>
<text transform="translate(430.7 198.65) scale(1.36 1)" font-size="3.4" text-anchor="end">10<tspan font-size="2.9" dy="-0.95">0</tspan></text>
<text transform="translate(430.7 208.55) scale(1.36 1)" font-size="3.4" text-anchor="end">10<tspan font-size="2.9" dy="-0.95">-2</tspan></text>
<text transform="translate(471.7 202.95) scale(1.2 1)" font-size="4.3" text-anchor="middle" stroke-width="0.12">10</text>
<text transform="translate(509.1 202.95) scale(1.2 1)" font-size="4.3" text-anchor="middle" stroke-width="0.12">20</text>
<text transform="translate(546.5 202.95) scale(1.2 1)" font-size="4.3" text-anchor="middle" stroke-width="0.12">30</text>
<text transform="translate(490.2 208.2) scale(1.39 1)" font-size="4.5" text-anchor="middle" stroke-width="0.24">time (hrs)</text>
<text transform="translate(491.5 213.8) scale(1.45 1)" font-size="4.5" text-anchor="middle" stroke-width="0.3">(i)</text>
<text transform="translate(490.6 164.8) scale(1.55 1)" font-size="4.6" text-anchor="middle" stroke-width="0.1">(Ascorbic Acid T3)</text>
<text transform="translate(417.5 182.85) rotate(-90) scale(0.88 1)" font-size="4.6" text-anchor="middle" stroke-width="0.3">Titre (log CCID50/ml)</text>
<g stroke="#000" fill="#000"><path d="M23.45 273.5H135.9" stroke-width="0.8" stroke="#4a4a4a"/><path d="M60.87 273.5v1.4M98.29 273.5v1.4M135.71 273.5v1.4" stroke-width="0.7" stroke="#333"/><path d="M23.5 271.2H135.9" stroke-width="1.3" stroke="#777" stroke-dasharray="1.7 2.0"/><path d="M23.45 233.6V283.75" stroke-width="1.15"/><path d="M21.25 233.9H23.45M21.25 243.8H23.45M21.25 253.7H23.45M21.25 263.6H23.45M21.25 273.5H23.45M21.25 283.4H23.45" stroke-width="0.7"/><path d="M23.45 244.15L24.97 245.56L26.49 246.79L28.02 247.76L29.54 248.56L31.06 249.31L32.58 250.04L34.11 250.73L35.63 251.42L37.15 252.11L38.67 252.83L40.19 253.6L41.72 254.38L43.24 255.17L44.76 255.95L46.28 256.71L47.8 257.44L49.33 258.17L50.85 258.88L52.37 259.58L53.89 260.26L55.42 260.94L56.94 261.61L58.46 262.27L59.98 262.9L61.5 263.5L63.03 264.08L64.55 264.64L66.07 265.18L67.59 265.71L69.12 266.24L70.64 266.75L72.16 267.24L73.68 267.73L75.2 268.21L76.73 268.67L78.25 269.14L79.77 269.6L81.29 270.04L82.81 270.45L84.34 270.84L85.86 271.21L87.38 271.57L88.9 271.91L90.43 272.2L91.95 272.46L93.47 272.72L94.99 272.96L96.51 273.18L98.04 273.36L99.56 273.47L101.08 273.53L102.6 273.58L104.12 273.62L105.65 273.66L107.17 273.69L108.69 273.71L110.21 273.73L111.74 273.74L113.26 273.75" stroke-width="0.92" fill="none" stroke-linejoin="round"/><path d="M23.45 240.83V245.78M22.05 240.83h2.8M22.05 245.78h2.8" stroke-width="0.85"/><ellipse cx="23.45" cy="243.31" rx="1.79" ry="1.62" stroke="none"/><path d="M27.19 245.98V250.93M25.79 245.98h2.8M25.79 250.93h2.8" stroke-width="0.85"/><ellipse cx="27.19" cy="248.45" rx="1.51" ry="1.38" stroke="none"/><path d="M30.93 247.66V251.62M29.53 247.66h2.8M29.53 251.62h2.8" stroke-width="0.85"/><ellipse cx="30.93" cy="249.64" rx="1.51" ry="1.38" stroke="none"/><path d="M38.42 250.33V255.78M37.02 250.33h2.8M37.02 255.78h2.8" stroke-width="0.85"/><ellipse cx="38.42" cy="253.06" rx="1.51" ry="1.38" stroke="none"/><path d="M45.9 254.34V261.27M44.5 254.34h2.8M44.5 261.27h2.8" stroke-width="0.85"/><ellipse cx="45.9" cy="257.81" rx="1.51" ry="1.38" stroke="none"/><rect x="89.44" y="268.85" width="2.73" height="2.38" stroke="none"/><ellipse cx="113.26" cy="273.8" rx="1.99" ry="0.99" stroke="none"/></g>
<text transform="translate(20.15 235.45) scale(1.36 1)" font-size="3.4" text-anchor="end">10<tspan font-size="2.9" dy="-0.95">8</tspan></text>
<text transform="translate(20.15 245.35) scale(1.36 1)" font-size="3.4" text-anchor="end">10<tspan font-size="2.9" dy="-0.95">6</tspan></text>
<text transform="translate(20.15 255.25) scale(1.36 1)" font-size="3.4" text-anchor="end">10<tspan font-size="2.9" dy="-0.95">4</tspan></text>
<text transform="translate(20.15 265.15) scale(1.36 1)" font-size="3.4" text-anchor="end">10<tspan font-size="2.9" dy="-0.95">2</tspan></text>
<text transform="translate(20.15 275.05) scale(1.36 1)" font-size="3.4" text-anchor="end">10<tspan font-size="2.9" dy="-0.95">0</tspan></text>
<text transform="translate(20.15 284.95) scale(1.36 1)" font-size="3.4" text-anchor="end">10<tspan font-size="2.9" dy="-0.95">-2</tspan></text>
<text transform="translate(61.37 279.55) scale(1.2 1)" font-size="4.3" text-anchor="middle" stroke-width="0.12">10</text>
<text transform="translate(98.79 279.55) scale(1.2 1)" font-size="4.3" text-anchor="middle" stroke-width="0.12">20</text>
<text transform="translate(136.21 279.55) scale(1.2 1)" font-size="4.3" text-anchor="middle" stroke-width="0.12">30</text>
<text transform="translate(79.95 283.85) scale(1.39 1)" font-size="4.5" text-anchor="middle" stroke-width="0.24">time (hrs)</text>
<text transform="translate(81.75 289.45) scale(1.45 1)" font-size="4.5" text-anchor="middle" stroke-width="0.3">(j)</text>
<text transform="translate(79.75 238.3) scale(1.55 1)" font-size="4.6" text-anchor="middle" stroke-width="0.1">(EGCG T1)</text>
<text transform="translate(7.35 259.55) rotate(-90) scale(0.88 1)" font-size="4.6" text-anchor="middle" stroke-width="0.3">Titre (log CCID50/ml)</text>
<g stroke="#000" fill="#000"><path d="M228.6 273.4H341" stroke-width="0.8" stroke="#4a4a4a"/><path d="M266 273.4v1.4M303.4 273.4v1.4M340.8 273.4v1.4" stroke-width="0.7" stroke="#333"/><path d="M228.65 271.1H341" stroke-width="1.3" stroke="#777" stroke-dasharray="1.7 2.0"/><path d="M228.6 233.5V283.65" stroke-width="1.15"/><path d="M226.4 233.8H228.6M226.4 243.7H228.6M226.4 253.6H228.6M226.4 263.5H228.6M226.4 273.4H228.6M226.4 283.3H228.6" stroke-width="0.7"/><path d="M228.6 244.94L230.12 245.89L231.64 246.95L233.16 248.14L234.69 249.51L236.21 250.71L237.73 251.64L239.25 252.44L240.77 253.18L242.29 253.94L243.81 254.79L245.33 255.75L246.86 256.76L248.38 257.79L249.9 258.77L251.42 259.65L252.94 260.47L254.46 261.24L255.98 261.98L257.51 262.69L259.03 263.38L260.55 264.07L262.07 264.73L263.59 265.37L265.11 265.96L266.63 266.49L268.16 266.97L269.68 267.42L271.2 267.85L272.72 268.25L274.24 268.64L275.76 269.02L277.28 269.37L278.8 269.71L280.33 270.05L281.85 270.37L283.37 270.69L284.89 271L286.41 271.3L287.93 271.58L289.45 271.84L290.98 272.1L292.5 272.35L294.02 272.57L295.54 272.76L297.06 272.93L298.58 273.09L300.1 273.24L301.63 273.35L303.15 273.4L304.67 273.4L306.19 273.4L307.71 273.4L309.23 273.4L310.75 273.4L312.27 273.4L313.8 273.4L315.32 273.4L316.84 273.4L318.36 273.4" stroke-width="0.92" fill="none" stroke-linejoin="round"/><path d="M228.6 242.56V245.53M227.2 242.56h2.8M227.2 245.53h2.8" stroke-width="0.85"/><ellipse cx="228.6" cy="244.05" rx="1.65" ry="1.5" stroke="none"/><rect x="230.9" y="246.56" width="2.88" height="2.5" stroke="none"/><rect x="234.39" y="250.09" width="3.38" height="1.57" rx="0.5" stroke="none"/><path d="M243.56 253.9V259.09M242.16 253.9h2.8M242.16 259.09h2.8" stroke-width="0.85"/><ellipse cx="243.56" cy="256.37" rx="1.24" ry="1.12" stroke="none"/><rect x="249.35" y="259.49" width="3.38" height="1.57" rx="0.5" stroke="none"/><path d="M295.92 269.19V271.67M294.52 269.19h2.8M294.52 271.67h2.8" stroke-width="0.85"/><rect x="294.55" y="269.24" width="2.73" height="2.38" stroke="none"/><ellipse cx="318.36" cy="273.6" rx="1.9" ry="0.94" stroke="none"/></g>
<text transform="translate(225.3 235.35) scale(1.36 1)" font-size="3.4" text-anchor="end">10<tspan font-size="2.9" dy="-0.95">8</tspan></text>
<text transform="translate(225.3 245.25) scale(1.36 1)" font-size="3.4" text-anchor="end">10<tspan font-size="2.9" dy="-0.95">6</tspan></text>
<text transform="translate(225.3 255.15) scale(1.36 1)" font-size="3.4" text-anchor="end">10<tspan font-size="2.9" dy="-0.95">4</tspan></text>
<text transform="translate(225.3 265.05) scale(1.36 1)" font-size="3.4" text-anchor="end">10<tspan font-size="2.9" dy="-0.95">2</tspan></text>
<text transform="translate(225.3 274.95) scale(1.36 1)" font-size="3.4" text-anchor="end">10<tspan font-size="2.9" dy="-0.95">0</tspan></text>
<text transform="translate(225.3 284.85) scale(1.36 1)" font-size="3.4" text-anchor="end">10<tspan font-size="2.9" dy="-0.95">-2</tspan></text>
<text transform="translate(266.5 279.45) scale(1.2 1)" font-size="4.3" text-anchor="middle" stroke-width="0.12">10</text>
<text transform="translate(303.9 279.45) scale(1.2 1)" font-size="4.3" text-anchor="middle" stroke-width="0.12">20</text>
<text transform="translate(341.3 279.45) scale(1.2 1)" font-size="4.3" text-anchor="middle" stroke-width="0.12">30</text>
<text transform="translate(285.1 283.75) scale(1.39 1)" font-size="4.5" text-anchor="middle" stroke-width="0.24">time (hrs)</text>
<text transform="translate(286.25 289.8) scale(1.45 1)" font-size="4.5" text-anchor="middle" stroke-width="0.3">(k)</text>
<text transform="translate(284.9 239.1) scale(1.55 1)" font-size="4.6" text-anchor="middle" stroke-width="0.1">(EGCG T2)</text>
<text transform="translate(212.5 259.45) rotate(-90) scale(0.88 1)" font-size="4.6" text-anchor="middle" stroke-width="0.3">Titre (log CCID50/ml)</text>
<g stroke="#000" fill="#000"><path d="M433.6 273.4H545.9" stroke-width="0.8" stroke="#4a4a4a"/><path d="M471 273.4v1.4M508.4 273.4v1.4M545.8 273.4v1.4" stroke-width="0.7" stroke="#333"/><path d="M433.65 271.1H545.9" stroke-width="1.3" stroke="#777" stroke-dasharray="1.7 2.0"/><path d="M433.6 233.5V283.65" stroke-width="1.15"/><path d="M431.4 233.8H433.6M431.4 243.7H433.6M431.4 253.6H433.6M431.4 263.5H433.6M431.4 273.4H433.6M431.4 283.3H433.6" stroke-width="0.7"/><path d="M433.6 243.7L435.12 244.7L436.64 245.72L438.16 246.77L439.69 247.84L441.21 248.94L442.73 250.08L444.25 251.26L445.77 252.46L447.29 253.66L448.81 254.83L450.33 256.01L451.86 257.2L453.38 258.36L454.9 259.49L456.42 260.54L457.94 261.55L459.46 262.52L460.98 263.45L462.51 264.33L464.03 265.16L465.55 265.96L467.07 266.72L468.59 267.44L470.11 268.1L471.63 268.69L473.16 269.23L474.68 269.72L476.2 270.19L477.72 270.62L479.24 271.03L480.76 271.41L482.28 271.77L483.8 272.11L485.33 272.43L486.85 272.74L488.37 273.06L489.89 273.37L491.41 273.64L492.93 273.85L494.45 273.98L495.98 274.1L497.5 274.2L499.02 274.29L500.54 274.35L502.06 274.39L503.58 274.39L505.1 274.36L506.63 274.32L508.15 274.25L509.67 274.16L511.19 274.06L512.71 273.94L514.23 273.8L515.75 273.66L517.27 273.45L518.8 273.11L520.32 272.68L521.84 272.18L523.36 271.67" stroke-width="0.92" fill="none" stroke-linejoin="round"/><path d="M432.4 240.52h2.4L433.6 242.52z" stroke="none"/><path d="M437.34 243.5V251.42M435.94 243.5h2.8M435.94 251.42h2.8" stroke-width="0.85"/><path d="M436.14 246.46h2.4L437.34 248.46z" stroke="none"/><path d="M439.88 248.14h2.4L441.08 250.14z" stroke="none"/><path d="M448.56 253.8V258.25M447.16 253.8h2.8M447.16 258.25h2.8" stroke-width="0.85"/><path d="M447.21 254.9h2.7L448.56 257.15z" stroke="none"/><path d="M456.04 261.22V266.17M454.64 261.22h2.8M454.64 266.17h2.8" stroke-width="0.85"/><path d="M454.84 262.7h2.4L456.04 264.7z" stroke="none"/><path d="M500.92 268.2V270.68M499.52 268.2h2.8M499.52 270.68h2.8" stroke-width="0.85"/><path d="M499.57 268.31h2.7L500.92 270.56z" stroke="none"/><path d="M522.16 272.4h2.4L523.36 274.4z" stroke="none"/></g>
<text transform="translate(430.3 235.35) scale(1.36 1)" font-size="3.4" text-anchor="end">10<tspan font-size="2.9" dy="-0.95">8</tspan></text>
<text transform="translate(430.3 245.25) scale(1.36 1)" font-size="3.4" text-anchor="end">10<tspan font-size="2.9" dy="-0.95">6</tspan></text>
<text transform="translate(430.3 255.15) scale(1.36 1)" font-size="3.4" text-anchor="end">10<tspan font-size="2.9" dy="-0.95">4</tspan></text>
<text transform="translate(430.3 265.05) scale(1.36 1)" font-size="3.4" text-anchor="end">10<tspan font-size="2.9" dy="-0.95">2</tspan></text>
<text transform="translate(430.3 274.95) scale(1.36 1)" font-size="3.4" text-anchor="end">10<tspan font-size="2.9" dy="-0.95">0</tspan></text>
<text transform="translate(430.3 284.85) scale(1.36 1)" font-size="3.4" text-anchor="end">10<tspan font-size="2.9" dy="-0.95">-2</tspan></text>
<text transform="translate(471.5 279.45) scale(1.2 1)" font-size="4.3" text-anchor="middle" stroke-width="0.12">10</text>
<text transform="translate(508.9 279.45) scale(1.2 1)" font-size="4.3" text-anchor="middle" stroke-width="0.12">20</text>
<text transform="translate(546.3 279.45) scale(1.2 1)" font-size="4.3" text-anchor="middle" stroke-width="0.12">30</text>
<text transform="translate(490.1 283.75) scale(1.39 1)" font-size="4.5" text-anchor="middle" stroke-width="0.24">time (hrs)</text>
<text transform="translate(493.65 292.2) scale(1.45 1)" font-size="4.5" text-anchor="middle" stroke-width="0.3">(l)</text>
<text transform="translate(489.9 240.1) scale(1.55 1)" font-size="4.6" text-anchor="middle" stroke-width="0.1">(EGCG T3)</text>
<text transform="translate(417.5 259.45) rotate(-90) scale(0.88 1)" font-size="4.6" text-anchor="middle" stroke-width="0.3">Titre (log CCID50/ml)</text>
</g>
</svg>
</body></html>
